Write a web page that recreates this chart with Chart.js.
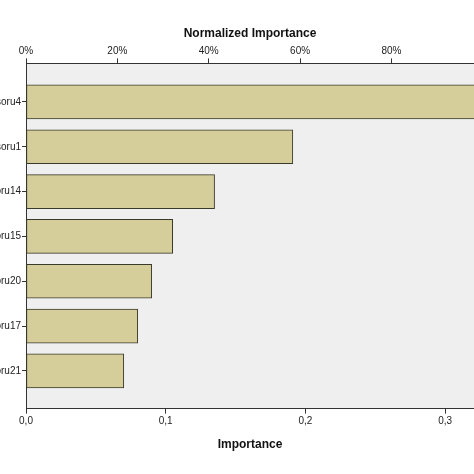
<!DOCTYPE html>
<html>
<head>
<script src="https://cdn.jsdelivr.net/npm/chart.js@4"></script>
<style>
  html, body { margin: 0; padding: 0; background: #fff; }
  #wrap { width: 474px; height: 474px; }
</style>
</head>
<body>
<div id="wrap"><canvas id="c"></canvas></div>
<script>
const categories = ['soru4', 'soru1', 'soru14', 'soru15', 'soru20', 'soru17', 'soru21'];
const importance = [0.327, 0.191, 0.135, 0.105, 0.090, 0.080, 0.070];
const bottomTicks = [0, 0.1, 0.2, 0.3];
const topTicks = [0, 20, 40, 60, 80];

const maxImportance = Math.max(...importance);
const visibleMax = 0.3207; // right edge of the picture cuts the axis here

const plotBg = {
  id: 'plotBg',
  beforeDraw(chart) {
    const { ctx, chartArea: a } = chart;
    ctx.save();
    ctx.fillStyle = '#efeff0';
    ctx.fillRect(a.left, a.top, a.right - a.left, a.bottom - a.top);
    ctx.restore();
  }
};

new Chart(document.getElementById('c'), {
  type: 'bar',
  data: {
    datasets: [{
      data: importance.map((v, i) => ({ x: v, y: i })),
      backgroundColor: '#d5cd9a',
      borderColor: '#3a3a2a',
      borderWidth: 1,
      borderSkipped: false,
      barThickness: 34,
    }]
  },
  plugins: [plotBg],
  options: {
    indexAxis: 'y',
    responsive: true,
    maintainAspectRatio: false,
    animation: false,
    layout: { padding: { top: 22, bottom: 18, left: 0, right: 0 } },
    plugins: { legend: { display: false }, tooltip: { enabled: false } },
    scales: {
      y: {
        type: 'linear',
        reverse: true,
        offset: false,
        min: -0.86,
        max: 6.84,
        afterFit: s => { s.width = 26; },
        afterBuildTicks: s => { s.ticks = categories.map((_, i) => ({ value: i })); },
        ticks: {
          callback: v => categories[v],
          font: { family: 'Liberation Sans', size: 10 },
          color: '#222',
          padding: 1,
        },
        grid: { offset: false, drawOnChartArea: false, tickLength: 4, color: '#333' },
        border: { color: '#333' },
      },
      x: {
        type: 'linear',
        position: 'bottom',
        min: 0,
        max: visibleMax,
        afterBuildTicks: s => { s.ticks = bottomTicks.map(v => ({ value: v })); },
        ticks: {
          callback: v => v.toFixed(1).replace('.', ','),
          font: { family: 'Liberation Sans', size: 10 },
          color: '#222',
          maxRotation: 0,
          padding: 2,
        },
        grid: { drawOnChartArea: false, tickLength: 5, color: '#333' },
        border: { color: '#333' },
        title: {
          display: true,
          text: 'Importance',
          font: { family: 'Liberation Sans', size: 12, weight: 'bold' },
          color: '#111',
          padding: { top: 8 },
        },
      },
      x2: {
        type: 'linear',
        axis: 'x',
        position: 'top',
        min: 0,
        max: visibleMax / maxImportance * 100,
        afterBuildTicks: s => { s.ticks = topTicks.map(v => ({ value: v })); },
        ticks: {
          callback: v => v + '%',
          font: { family: 'Liberation Sans', size: 10 },
          color: '#222',
          maxRotation: 0,
          padding: 1,
        },
        grid: { drawOnChartArea: false, tickLength: 5, color: '#333' },
        border: { color: '#333' },
        title: {
          display: true,
          text: 'Normalized Importance',
          font: { family: 'Liberation Sans', size: 12, weight: 'bold' },
          color: '#111',
          padding: { bottom: 4 },
        },
      },
    }
  }
});
</script>
</body>
</html>
